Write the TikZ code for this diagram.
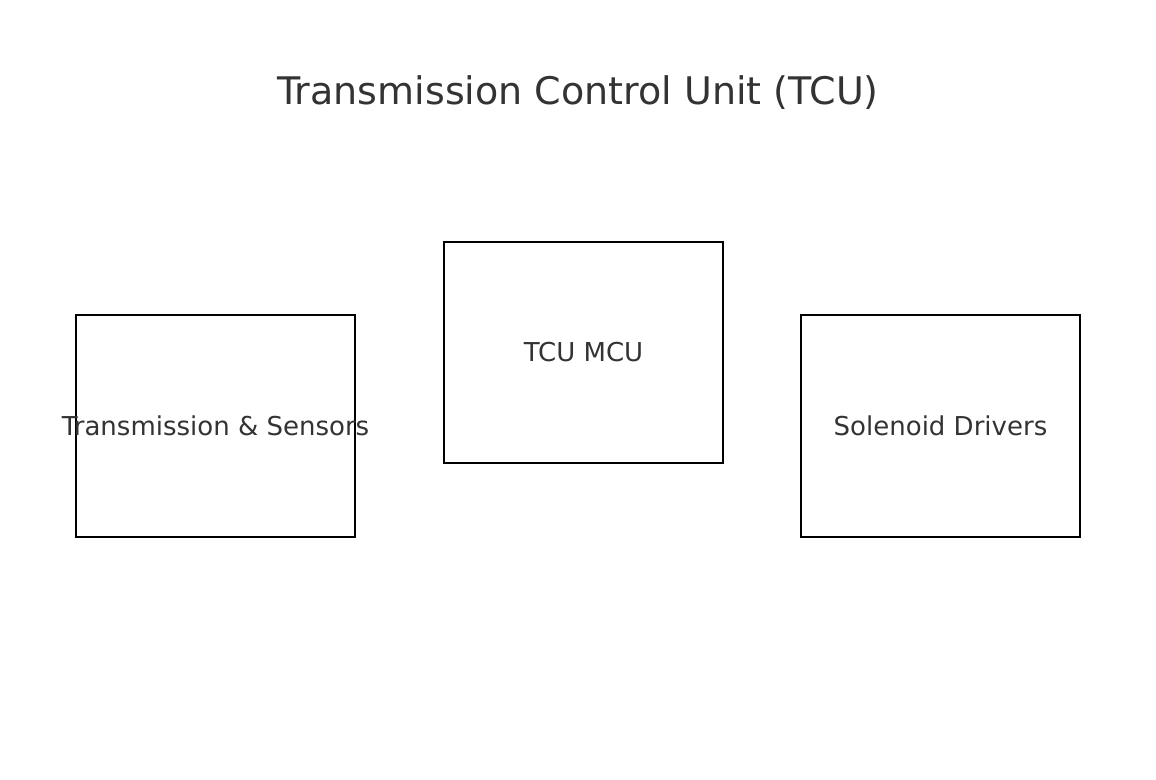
\documentclass[tikz,border=0pt]{standalone}
\usepackage{fontspec}
\setmainfont{DejaVu Sans}
\definecolor{txt}{HTML}{333333}
\begin{document}
\begin{tikzpicture}[x=1pt,y=-1pt,
  box/.style={draw=black,line width=2.2pt},
  lbl/.style={text=txt,font=\fontsize{26}{30}\selectfont}]
\useasboundingbox (0,0) rectangle (1156,779);
\node[text=txt,font=\fontsize{38}{44}\selectfont] (title) at (578,93) {Transmission Control Unit (TCU)};
\draw[box] (76,315) rectangle (355,537);
\draw[box] (444,242) rectangle (723,463);
\draw[box] (801,315) rectangle (1080,537);
\node[lbl] (a) at (215.5,426) {Transmission \& Sensors};
\node[lbl] (b) at (583.5,352.5) {TCU MCU};
\node[lbl] (c) at (940.5,426) {Solenoid Drivers};
\end{tikzpicture}
\end{document}
